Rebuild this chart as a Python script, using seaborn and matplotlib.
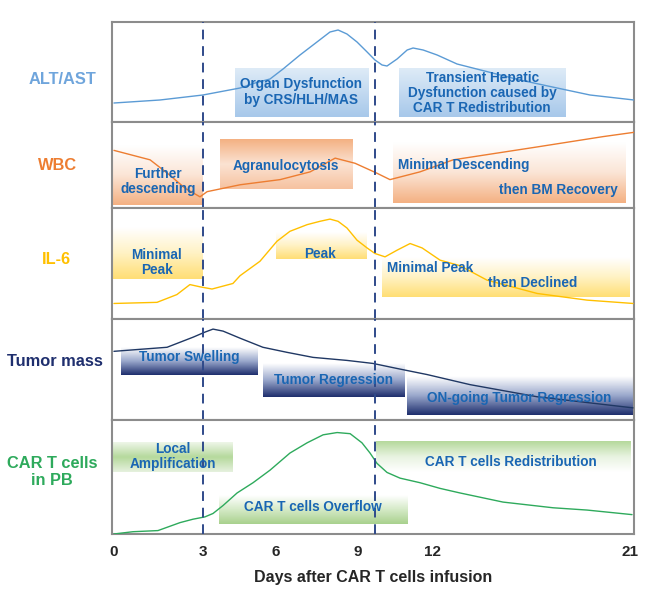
import numpy as np
import pandas as pd
import matplotlib
matplotlib.use('Agg')
import matplotlib.pyplot as plt
import seaborn as sns
from matplotlib.colors import LinearSegmentedColormap

sns.set_style('white')
plt.rcParams['font.family'] = ['Liberation Sans', 'DejaVu Sans']
plt.rcParams['font.weight'] = 'bold'

# x axis is drawn in chart units (the original axis is not linear in days)
tick_pos = [0, 3.62, 6.59, 9.93, 12.98, 21]
tick_lab = ['0', '3', '6', '9', '12', '21']
dash_x = [3.62, 10.62]

# curves, levels 0-100 inside each panel
alt_x = [0, 1.87, 3.62, 5.13, 5.74, 6.35, 6.88, 7.57, 8.26, 8.79, 9.12, 9.48, 9.89, 10.3, 10.62,
         10.91, 11.11, 11.52, 11.93, 12.17, 12.58, 13.15, 13.96, 16.52, 18.03, 19.37, 21.16]
alt_y = [19, 22, 27, 34, 39, 43, 53, 67, 80, 90, 92, 88, 80, 70, 62,
         57, 56, 63, 72, 74, 72, 67, 58, 42, 34, 27, 22]

wbc_x = [0, 1.47, 2.28, 2.89, 3.5, 3.79, 5.13, 6.76, 7.98, 9.0, 9.81, 10.66, 11.23, 12.45,
         13.8, 17.22, 19.9, 21.16]
wbc_y = [67, 56, 38, 23, 13, 19, 27, 33, 42, 58, 52, 41, 33, 42, 56, 71, 83, 88]

il6_x = [0, 1.75, 2.56, 3.09, 3.5, 3.99, 4.84, 5.13, 5.94, 6.63, 7.16, 7.86, 8.38, 8.79, 9.12,
         9.48, 9.89, 10.3, 10.62, 11.03, 11.52, 12.05, 12.54, 13.27, 14.08, 15.18, 17.22, 19.25, 21.12]
il6_y = [14, 15, 22, 31, 29, 27, 32, 39, 52, 70, 79, 85, 88, 90, 88,
         82, 71, 64, 59, 56, 62, 68, 64, 53, 48, 35, 23, 17, 14]

tum_x = [0, 2.16, 2.69, 3.22, 3.7, 4.03, 4.44, 5.13, 6.06, 7.04, 8.1, 9.48, 10.54, 11.52, 12.74,
         14.49, 17.22, 21.12]
tum_y = [68, 72, 77, 82, 87, 90, 88, 81, 72, 67, 62, 59, 56, 51, 45, 35, 23, 12]

car_x = [0, 0.77, 1.79, 2.69, 3.22, 3.7, 4.03, 4.44, 5.01, 5.66, 6.35, 7.16, 7.86, 8.51, 9.08,
         9.61, 10.09, 10.42, 10.7, 11.11, 11.64, 12.45, 13.27, 14.08, 15.83, 17.87, 19.25, 21.08]
car_y = [0, 2, 3, 10, 13, 15, 18, 25, 36, 45, 56, 71, 80, 87, 89,
         88, 80, 71, 62, 54, 49, 45, 40, 36, 28, 23, 21, 17]

panel_names = ['ALT/AST', 'WBC', 'IL-6', 'Tumor mass', 'CAR T cells\nin PB']
line_colors = ['#5b9bd5', '#ed7d31', '#ffc000', '#203864', '#2eaa5c']
name_colors = ['#6fa5dc', '#ed7d31', '#ffc000', '#1f2f6e', '#2eaa5c']
curves = [(alt_x, alt_y), (wbc_x, wbc_y), (il6_x, il6_y), (tum_x, tum_y), (car_x, car_y)]

blue = ['#deebf7', '#a7c8ea']
salmon_up = ['#ffffff', '#fbe5d6', '#f4b183']
salmon_mid = ['#f4b183', '#fbe3d3', '#f6c2a0']
yellow_up = ['#ffffff', '#fff2c4', '#ffde75']
navy_up = ['#ffffff', '#9aa8cc', '#1f2f6e']
green_mid = ['#eef6e8', '#b5d99c', '#e6f1de']
green_down = ['#b5d99c', '#e8f3e0', '#ffffff']
green_up = ['#ffffff', '#d5eac7', '#a9d18e']

# boxes: panel, x0, x1, y0, y1, colours (top -> bottom)
boxes = [
    (0, 4.92, 10.34, 5, 54, blue),
    (0, 11.6, 18.36, 5, 54, blue),
    (1, -0.08, 3.62, 3, 72, salmon_up),
    (1, 4.31, 9.69, 22, 79, salmon_mid),
    (1, 11.36, 20.8, 6, 76, salmon_up),
    (2, -0.08, 3.62, 36, 82, yellow_up),
    (2, 6.59, 10.26, 54, 78, yellow_up),
    (2, 10.91, 21.0, 20, 56, yellow_up),
    (3, 0.28, 5.82, 45, 72, navy_up),
    (3, 6.06, 11.8, 23, 56, navy_up),
    (3, 11.93, 21.12, 5, 43, navy_up),
    (4, -0.08, 4.84, 54, 80, green_mid),
    (4, 4.27, 11.92, 9, 34, green_up),
    (4, 10.66, 21.0, 54, 81, green_down),
]

# labels: panel, x, y, text, ha
labels = [
    (0, 7.63, 30, 'Organ Dysfunction\nby CRS/HLH/MAS', 'center'),
    (0, 14.98, 29, 'Transient Hepatic\nDysfunction caused by\nCAR T Redistribution', 'center'),
    (1, 1.79, 31, 'Further\ndescending', 'center'),
    (1, 7.0, 49, 'Agranulocytosis', 'center'),
    (1, 11.56, 50, 'Minimal Descending', 'left'),
    (1, 20.51, 21, 'then BM Recovery', 'right'),
    (2, 1.75, 51, 'Minimal\nPeak', 'center'),
    (2, 8.4, 59, 'Peak', 'center'),
    (2, 11.11, 46, 'Minimal Peak', 'left'),
    (2, 15.22, 32, 'then Declined', 'left'),
    (3, 3.05, 62, 'Tumor Swelling', 'center'),
    (3, 8.93, 40, 'Tumor Regression', 'center'),
    (3, 16.5, 22, 'ON-going Tumor Regression', 'center'),
    (4, 2.4, 68, 'Local\nAmplification', 'center'),
    (4, 8.1, 24, 'CAR T cells Overflow', 'center'),
    (4, 16.16, 63, 'CAR T cells Redistribution', 'center'),
]

name_y = [79, 166, 259, 362, 472]
name_x = [62, 58, 56, 55, 52]

fig, axes = plt.subplots(5, 1, figsize=(6.56, 5.90), dpi=100,
                         gridspec_kw=dict(height_ratios=[100, 86, 111, 101, 114], hspace=0))
fig.subplots_adjust(left=112/656, right=634/656, top=1-22/590, bottom=1-534/590)

def grad_box(ax, x0, x1, y0, y1, colors):
    cmap = LinearSegmentedColormap.from_list('g', colors)
    g = np.linspace(0, 1, 64).reshape(-1, 1)
    ax.imshow(g, cmap=cmap, extent=(x0, x1, y0, y1), origin='upper',
              aspect='auto', zorder=1, interpolation='bilinear')

for i, ax in enumerate(axes):
    for b in boxes:
        if b[0] == i:
            grad_box(ax, *b[1:])
    df = pd.DataFrame({'x': curves[i][0], 'y': curves[i][1]})
    sns.lineplot(data=df, x='x', y='y', ax=ax, color=line_colors[i], lw=1.0,
                 estimator=None, zorder=3)
    for dx in dash_x:
        ax.axvline(dx, color='#2f4a8a', lw=1.4, ls=(0, (5, 3.5)), zorder=4)
    for l in labels:
        if l[0] == i:
            ax.text(l[1], l[2], l[3], ha=l[4], va='center', color='#1a66b3',
                    fontsize=9.8, fontweight='bold', zorder=5, linespacing=1.1)
    ax.set_xlim(-0.08, 21.16)
    ax.set_ylim(0, 100)
    ax.set_yticks([])
    ax.set_ylabel('')
    ax.set_xlabel('')
    for s in ax.spines.values():
        s.set_color('#8c8c8c')
        s.set_linewidth(1.5)
    if i < 4:
        ax.set_xticks([])
    fig.text(name_x[i]/656, 1-name_y[i]/590, panel_names[i], ha='center', va='center',
             color=name_colors[i], fontsize=11.8, fontweight='bold', linespacing=1.2)

axes[-1].set_xticks(tick_pos)
axes[-1].set_xticklabels(tick_lab, fontsize=11, fontweight='bold')
axes[-1].tick_params(axis='x', length=0, pad=8)
axes[-1].set_xlabel('Days after CAR T cells infusion', fontsize=11.5, fontweight='bold', labelpad=8)

plt.savefig('out.png', dpi=100)
